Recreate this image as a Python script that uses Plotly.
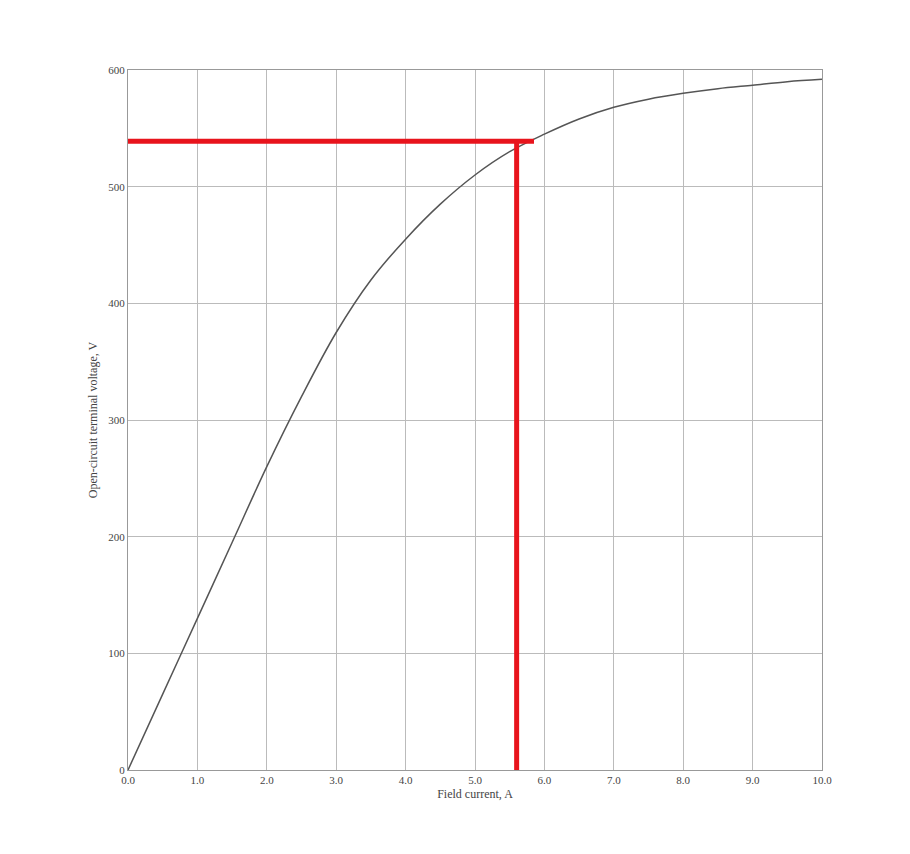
import plotly.graph_objects as go

field_current = [0.0, 0.5, 1.0, 1.5, 2.0, 2.5, 3.0, 3.5, 4.0, 4.5, 5.0, 5.5, 6.0, 6.5, 7.0, 7.5, 8.0, 8.5, 9.0, 9.5, 10.0]
voltage = [0, 65, 130, 195, 260, 320, 375, 420, 455, 485, 510, 530, 545, 558, 568, 575, 580, 584, 587, 590, 592]
x_ticks = [0, 1, 2, 3, 4, 5, 6, 7, 8, 9, 10]
x_tick_labels = ["0.0", "1.0", "2.0", "3.0", "4.0", "5.0", "6.0", "7.0", "8.0", "9.0", "10.0"]
y_ticks = [0, 100, 200, 300, 400, 500, 600]
marker_current = 5.6
marker_voltage = 539

fig = go.Figure()
fig.add_trace(go.Scatter(x=field_current, y=voltage, mode="lines", line=dict(color="#555555", width=1.5, shape="spline"), showlegend=False))
fig.add_shape(type="line", x0=-0.05, x1=5.85, y0=marker_voltage, y1=marker_voltage, xref="x", yref="y", line=dict(color="#e8141c", width=5))
fig.add_shape(type="line", x0=marker_current, x1=marker_current, y0=-10, y1=marker_voltage, xref="x", yref="y", line=dict(color="#e8141c", width=5))

axis_common = dict(showgrid=True, gridcolor="#bbbbbb", gridwidth=1, showline=True, linecolor="#999999", mirror=True,
                   zeroline=False, ticks="", tickfont=dict(family="Liberation Serif", size=11, color="#444444"))
fig.update_xaxes(range=[0, 10], tickvals=x_ticks, ticktext=x_tick_labels,
                 title=dict(text="Field current, A", font=dict(family="Liberation Serif", size=12, color="#444444"), standoff=4), **axis_common)
fig.update_yaxes(range=[0, 600], tickvals=y_ticks,
                 title=dict(text="Open-circuit terminal voltage, V", font=dict(family="Liberation Serif", size=12, color="#444444"), standoff=8), **axis_common)
fig.update_layout(width=910, height=854, margin=dict(l=120, r=96, t=62, b=92),
                  plot_bgcolor="white", paper_bgcolor="white")
fig.write_html("out.html")
